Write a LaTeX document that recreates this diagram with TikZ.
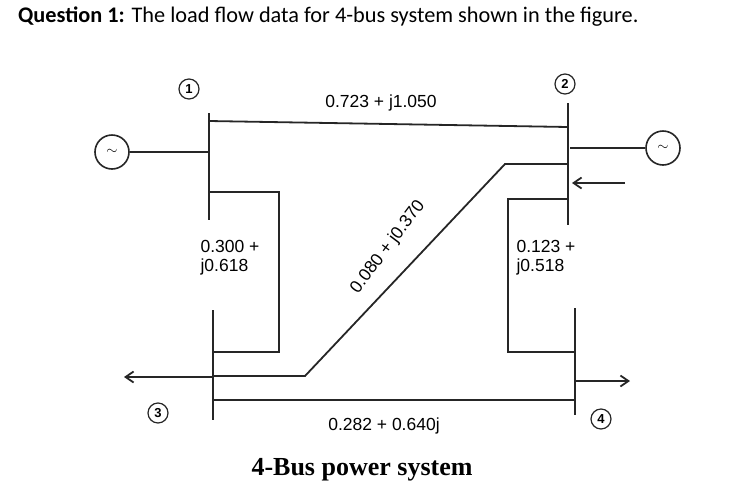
\documentclass[tikz,border=0pt]{standalone}
\usepackage{fontspec}
\setmainfont{Liberation Sans}
\newfontfamily\qfont{Carlito}
\newfontfamily\tfont{Liberation Serif}
\usetikzlibrary{arrows.meta}
\begin{document}
\begin{tikzpicture}[x=1pt,y=-1pt,
  line/.style={line width=1.8pt,black!85},
  bus/.style={line width=2pt,black!85},
  gen/.style={circle,draw=black!85,line width=1.6pt,minimum size=34pt,inner sep=0pt,font=\Large},
  num/.style={circle,draw=black!85,line width=1.2pt,minimum size=20pt,inner sep=0pt,font=\fontsize{13}{14}\selectfont\bfseries},
  lab/.style={font=\fontsize{17.5}{19}\selectfont,align=left,inner sep=1pt},
  arr/.style={line,-{Straight Barb[length=8pt,width=11pt]}}]
\useasboundingbox (0,0) rectangle (750,499);
\node[anchor=west,inner sep=0pt,font=\qfont\fontsize{22.3}{24}\selectfont] (q) at (18,17) {\textbf{Question 1:} The load flow data for 4-bus system shown in the figure.};
% buses
\coordinate (b1t) at (209,113); \coordinate (b1b) at (209,220);
\coordinate (b2t) at (568,103); \coordinate (b2b) at (568,225);
\coordinate (b3t) at (213,310); \coordinate (b3b) at (213,420);
\coordinate (b4t) at (575,308); \coordinate (b4b) at (575,415);
\draw[bus] (b1t) -- (b1b); \draw[bus] (b2t) -- (b2b);
\draw[bus] (b3t) -- (b3b); \draw[bus] (b4t) -- (b4b);
\node[num] (n1) at (189,89) {1};
\node[num] (n2) at (565,84) {2};
\node[num] (n3) at (158,413) {3};
\node[num] (n4) at (601,419) {4};
% generators
\node[gen] (g1) at (112,152) {$\sim$};
\node[gen] (g2) at (663,148) {$\sim$};
\draw[line] (g1.east) -- (209,152);
\draw[line] (g2.west) -- (570,148);
% line 1-2
\draw[line] (209,121) -- (568,127);
\node[lab] (l12) at (381,103) {0.723 + j1.050};
% line 1-3
\draw[line] (209,192) -- (279,192) -- (279,352) -- (213,352);
\node[lab] (l13) at (230,258) {0.300 +\\j0.618};
% line 2-4
\draw[line] (568,199) -- (508,199) -- (508,352) -- (575,352);
\node[lab] (l24) at (546,258) {0.123 +\\j0.518};
% diagonal 2-3
\draw[line] (568,164) -- (505,164) -- (305,376) -- (213,376);
\node[lab,rotate=53] (l23) at (388,247) {0.080 + j0.370};
% line 3-4
\draw[line] (213,400) -- (575,400);
\node[lab] (l34) at (384,426) {0.282 + 0.640j};
% load arrows
\coordinate (a3) at (124,377);
\coordinate (a4) at (630,381);
\coordinate (a2) at (625,183);
\draw[arr] (213,377) -- (a3);
\draw[arr] (575,381) -- (a4);
\draw[arr] (a2) -- (572,183);
\node[font=\tfont\bfseries\fontsize{26}{28}\selectfont] (t) at (362,470) {4-Bus power system};
\end{tikzpicture}
\end{document}
